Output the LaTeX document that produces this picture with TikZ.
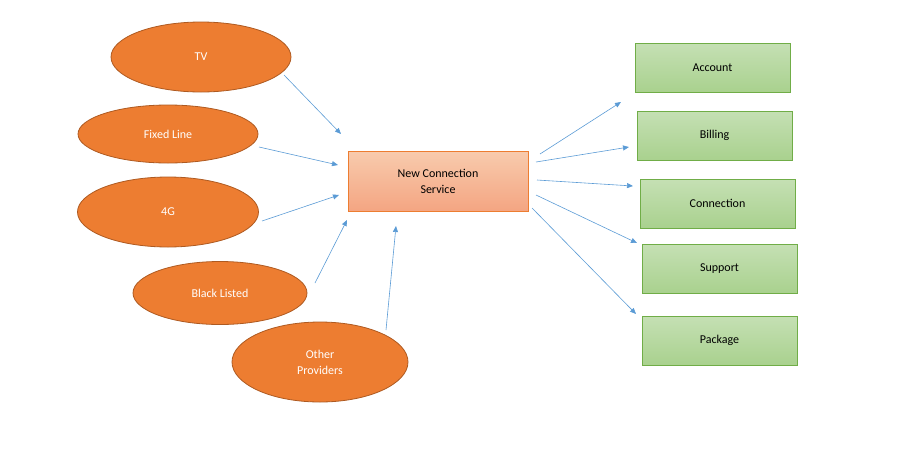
\documentclass[tikz,border=0pt]{standalone}
\usepackage{fontspec}
\setmainfont{Carlito}
\usetikzlibrary{shapes.geometric,arrows.meta}
\definecolor{orf}{HTML}{ED7D31}
\definecolor{ord}{HTML}{AE5A21}
\definecolor{blu}{HTML}{5B9BD5}
\definecolor{grb}{HTML}{70AD47}
\definecolor{grt}{HTML}{C5E0B4}
\definecolor{grm}{HTML}{A9D18E}
\definecolor{sat}{HTML}{F8CBAD}
\definecolor{sab}{HTML}{F4A582}
\begin{document}
\begin{tikzpicture}[x=1pt,y=-1pt,
  src/.style={ellipse,draw=ord,line width=0.8pt,fill=orf,text=white,font=\fontsize{12}{14}\selectfont,inner sep=0pt},
  tgt/.style={rectangle,draw=grb,line width=0.6pt,top color=grt,bottom color=grm,minimum width=155pt,minimum height=49pt,font=\fontsize{12}{14}\selectfont,inner sep=0pt},
  arr/.style={draw=blu,line width=0.6pt,-{Triangle[length=6pt,width=5pt]}}]
\useasboundingbox (0,0) rectangle (923,461);
\node[src,minimum width=180pt,minimum height=70pt] (tv) at (201,57) {TV};
\node[src,minimum width=180pt,minimum height=58pt] (fl) at (168,134) {Fixed Line};
\node[src,minimum width=181pt,minimum height=70pt] (g4) at (168,212) {4G};
\node[src,minimum width=174pt,minimum height=63pt] (bl) at (220,293) {Black Listed};
\node[src,minimum width=176pt,minimum height=80pt,align=center] (op) at (320,362) {Other\\[2pt]Providers};
\node[rectangle,draw=orf,line width=0.6pt,top color=sat,bottom color=sab,minimum width=180pt,minimum height=60pt,align=center,font=\fontsize{12}{14}\selectfont] (nc) at (438,181) {New Connection\\[2pt]Service};
\node[tgt] (ac) at (712.5,67.5) {Account};
\node[tgt] (bi) at (714.5,135.5) {Billing};
\node[tgt] (co) at (717.5,203.5) {Connection};
\node[tgt] (su) at (719.5,268.5) {Support};
\node[tgt] (pa) at (719.5,340.5) {Package};
\foreach \n/\x/\y in {a1/284/75,b1/341/134,a2/259/147,b2/338/165,a3/262/221,b3/339/195,a4/315/283,b4/347/220,a5/386/330,b5/396/226,
 c1/540/154,d1/621/102,c2/536/162,d2/629/147,c3/537/180,d3/633/186,c4/536/195,d4/637/243,c5/532/208,d5/636/314}
  \coordinate (\n) at (\x,\y);
\foreach \i in {1,...,5}{\draw[arr] (a\i) -- (b\i); \draw[arr] (c\i) -- (d\i);}
\end{tikzpicture}
\end{document}
